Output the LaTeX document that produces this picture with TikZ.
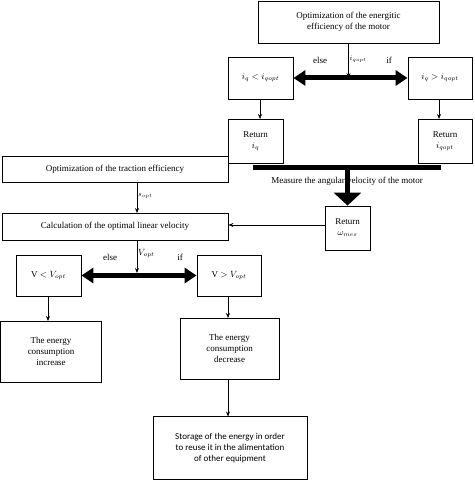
\documentclass[tikz,border=0pt]{standalone}
\usepackage{amsmath}
\usepackage{fontspec}
\setmainfont{Liberation Serif}
\newfontfamily\boxsans{Carlito}
\usetikzlibrary{positioning}
\usetikzlibrary{arrows.meta}
\usetikzlibrary{calc}
\tikzset{blk/.style={draw,line width=0.8pt,align=center,inner sep=1pt,font=\fontsize{9}{11}\selectfont}}
\tikzset{ed/.style={inner sep=1pt,font=\fontsize{9}{11}\selectfont}}
\tikzset{thin arr/.style={-{Stealth[length=5pt,width=4pt]},line width=0.7pt}}
\tikzset{fat arr/.style={{Triangle[length=12pt,width=15pt]}-{Triangle[length=12pt,width=15pt]},line width=5pt}}
\tikzset{>=Stealth}

\begin{document}
\begin{tikzpicture}[x=1pt,y=-1pt]
\useasboundingbox (0,0) rectangle (474,481);

\node[blk,minimum width=181pt,minimum height=42pt] (motor) at (348.5,22) {Optimization of the energitic\\efficiency of the motor};
\node[blk,minimum width=65pt,minimum height=42pt] (iqless) at (260.5,78) {$i_q < i_{qopt}$};
\node[blk,minimum width=64pt,minimum height=42pt] (iqmore) at (440,78) {$i_q > i_{qopt}$};
\node[blk,minimum width=55pt,minimum height=44pt] (retiq) at (255.5,141) {Return\\$i_q$};
\node[blk,minimum width=54pt,minimum height=44pt] (retiqopt) at (445,141) {Return\\$i_{qopt}$};

\node[blk,minimum width=226pt,minimum height=26pt] (traction) at (115,169) {Optimization of the traction efficiency};
\node[blk,minimum width=226pt,minimum height=27pt] (calc) at (115,226.5) {Calculation of the optimal linear velocity};
\node[blk,minimum width=45pt,minimum height=44pt] (retomega) at (347.5,228) {Return\\$\omega_{mes}$};
\node[ed] (measure) at (347,181) {Measure the angular velocity of the motor};

\node[blk,minimum width=65pt,minimum height=41pt] (vless) at (48.5,275.5) {V $< V_{opt}$};
\node[blk,minimum width=64pt,minimum height=41pt] (vmore) at (229,275.5) {V $> V_{opt}$};
\node[blk,minimum width=101pt,minimum height=61pt] (increase) at (51,351.5) {The energy\\consumption\\increase};
\node[blk,minimum width=99pt,minimum height=61pt] (decrease) at (229.5,348.5) {The energy\\consumption\\decrease};
\node[blk,minimum width=154pt,minimum height=63pt,font=\boxsans\fontsize{9}{11}\selectfont] (storage) at (230,448) {Storage of the energy in order\\to reuse it in the alimentation\\of other equipment};

% motor part
\draw[fat arr] (iqless.east) -- (iqmore.west);
\coordinate (split1) at ($(iqless.east)!0.5!(iqmore.west)$);
\draw[thin arr] (motor.south) -- (motor.south |- split1) coordinate[pos=0.45] (lab1);
\node[ed,right=0pt of lab1,font=\scriptsize] {$i_{qopt}$};
\node[ed] at (320,60) {else};
\node[ed] at (389,60) {if};
\draw[thin arr] (260,99) -- (260,119);
\draw[thin arr] (439,99) -- (439,119);

\coordinate (barL) at (253,167);
\coordinate (barR) at (441,167);
\draw[line width=5pt] (barL) -- (barR);
\draw[line width=5pt,-{Triangle[length=13pt,width=27pt]}] (retomega.north |- barL) -- (retomega.north);
\draw[thin arr] (retomega.west |- 0,225) -- (calc.east |- 0,225);

% vehicle part
\draw[thin arr] (137,182) -- (137,213) coordinate[pos=0.45] (lab2);
\node[ed,right=0pt of lab2,font=\scriptsize] {$s_{opt}$};
\draw[fat arr] (vless.east) -- (vmore.west);
\draw[thin arr] (137,240) -- (137,273) coordinate[pos=0.4] (lab3);
\node[ed,right=0pt of lab3,font=\small] {$V_{opt}$};
\node[ed] at (110,257) {else};
\node[ed] at (180,257) {if};
\draw[thin arr] (vless.south -| 48,0) -- (48,321);
\draw[thin arr] (vmore.south -| 228,0) -- (228,318);
\draw[thin arr] (decrease.south -| 228,0) -- (228,416.5);

\end{tikzpicture}
\end{document}
